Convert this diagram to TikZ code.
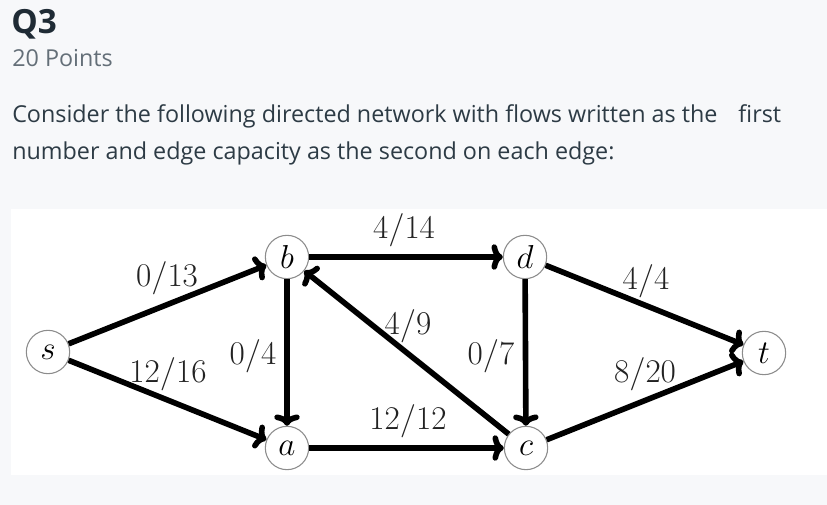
\documentclass[tikz,border=0pt]{standalone}
\usepackage[no-math]{fontspec}
\setmainfont{Open Sans}
\usetikzlibrary{arrows.meta}
\definecolor{pagebg}{HTML}{F7F8FA}
\definecolor{titlecol}{HTML}{1F2B35}
\definecolor{subcol}{HTML}{646F78}
\definecolor{bodycol}{HTML}{2D3B45}
\definecolor{vgray}{HTML}{8C8C8C}
\definecolor{labcol}{HTML}{222222}
\tikzset{
  vtx/.style={circle, draw=vgray, line width=0.8pt, fill=white, minimum size=32.5pt, inner sep=0pt, font=\fontsize{24.5}{24.5}\selectfont},
  flowedge/.style={line width=4.2pt, -{To[length=8.5pt,width=19pt]}},
  flowlab/.style={inner sep=0pt, text=labcol, font=\fontsize{24.5}{24.5}\selectfont},
  bodytext/.style={anchor=base west, inner sep=0pt, text=bodycol, font=\fontsize{17.5}{17.5}\selectfont}
}
\begin{document}
\begin{tikzpicture}[x=0.75pt,y=-0.75pt]
\useasboundingbox (0,0) rectangle (827,505);
\fill[pagebg] (0,0) rectangle (827,505);
\fill[white] (11,209) rectangle (827,475);
\node[anchor=base west, inner sep=0pt, text=titlecol, font=\fontsize{25}{25}\selectfont\bfseries] (q) at (11,34) {Q3};
\node[anchor=base west, inner sep=0pt, text=subcol, font=\fontsize{17.5}{17.5}\selectfont] (pts) at (12,67) {20 Points};
\node[bodytext] (l1) at (12,123) {Consider the following directed network with flows written as the\hspace{0.9em}first};
\node[bodytext] (l2) at (12,160) {number and edge capacity as the second on each edge:};
% vertices
\node[vtx] (s) at (48,352) {$s$};
\node[vtx] (b) at (287,257) {$b$};
\node[vtx] (a) at (287,448) {$a$};
\node[vtx] (d) at (525,257) {$d$};
\node[vtx] (c) at (526,448) {$c$};
\node[vtx] (t) at (764,353) {$t$};
% edges
\draw[flowedge] (s) -- (b);
\draw[flowedge] (s) -- (a);
\draw[flowedge] (b) -- (d);
\draw[flowedge] (b) -- (a);
\draw[flowedge] (c) -- (b);
\draw[flowedge] (a) -- (c);
\draw[flowedge] (d) -- (c);
\draw[flowedge] (d) -- (t);
\draw[flowedge] (c) -- (t);
% labels
\node[flowlab] (lsb) at (167,278) {$0/13$};
\node[flowlab] (lsa) at (168,374) {$12/16$};
\node[flowlab] (lba) at (253,356) {$0/4$};
\node[flowlab] (lbd) at (404,230) {$4/14$};
\node[flowlab] (lcb) at (408,326) {$4/9$};
\node[flowlab] (lac) at (408,421) {$12/12$};
\node[flowlab] (ldc) at (491,356) {$0/7$};
\node[flowlab] (ldt) at (646,281) {$4/4$};
\node[flowlab] (lct) at (645,374) {$8/20$};
\end{tikzpicture}
\end{document}
